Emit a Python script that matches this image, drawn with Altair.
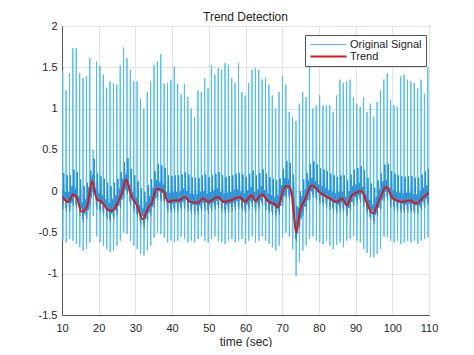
import altair as alt
import pandas as pd

# ---- beats of the original signal (R-peak time, R-peak value, S-trough value, local baseline)
beat_times = [
    10.20, 11.12, 12.04, 12.96, 13.88, 14.81, 15.73, 16.65, 17.57, 18.49,
    19.41, 20.33, 21.25, 22.17, 23.09, 24.02, 24.94, 25.86, 26.78, 27.70,
    28.62, 29.54, 30.46, 31.38, 32.30, 33.23, 34.15, 35.07, 35.99, 36.91,
    37.83, 38.75, 39.67, 40.59, 41.51, 42.44, 43.36, 44.28, 45.20, 46.12,
    47.04, 47.96, 48.88, 49.80, 50.72, 51.65, 52.57, 53.49, 54.41, 55.33,
    56.25, 57.17, 58.09, 59.01, 59.93, 60.86, 61.78, 62.70, 63.62, 64.54,
    65.46, 66.38, 67.30, 68.22, 69.14, 70.07, 70.99, 71.91, 72.83, 73.75,
    74.67, 75.59, 76.51, 77.43, 78.35, 79.28, 80.20, 81.12, 82.04, 82.96,
    83.88, 84.80, 85.72, 86.64, 87.56, 88.49, 89.41, 90.33, 91.25, 92.17,
    93.09, 94.01, 94.93, 95.85, 96.77, 97.70, 98.62, 99.54, 100.46, 101.38,
    102.30, 103.22, 104.14, 105.06, 105.98, 106.91, 107.83, 108.75, 109.67,
]
r_peak = [
    1.46, 1.22, 1.43, 1.73, 1.73, 1.43, 1.37, 1.39, 1.61, 0.50,
    1.57, 1.52, 1.41, 1.25, 1.33, 1.31, 1.29, 1.52, 1.74, 1.61,
    1.47, 1.33, 1.33, 1.12, 1.00, 1.20, 1.33, 1.53, 1.57, 1.66,
    1.30, 1.31, 1.35, 1.51, 1.30, 1.17, 1.30, 1.14, 1.00, 0.90,
    1.22, 1.20, 1.37, 1.25, 1.53, 1.41, 1.49, 1.47, 1.55, 1.53,
    1.37, 1.31, 1.55, 1.20, 1.16, 1.31, 1.47, 1.49, 1.47, 1.35,
    1.37, 1.29, 1.16, 1.00, 1.20, 1.39, 1.29, 0.96, 0.90, 0.85,
    1.06, 1.20, 1.14, 1.80, 1.00, 1.04, 1.16, 1.04, 1.04, 1.04,
    0.96, 1.16, 1.35, 1.31, 1.33, 1.35, 1.14, 1.06, 1.02, 1.14,
    0.96, 1.06, 0.90, 1.08, 1.22, 1.35, 1.43, 1.10, 1.04, 1.02,
    1.39, 1.41, 1.35, 1.33, 1.31, 1.25, 1.35, 1.18, 1.50,
]
s_trough = [
    -0.60, -0.62, -0.58, -0.60, -0.64, -0.68, -0.72, -0.70, -0.62, -0.30,
    -0.55, -0.62, -0.66, -0.70, -0.74, -0.72, -0.66, -0.60, -0.50, -0.52,
    -0.60, -0.66, -0.70, -0.76, -0.78, -0.72, -0.66, -0.56, -0.50, -0.52,
    -0.56, -0.62, -0.60, -0.62, -0.60, -0.55, -0.58, -0.62, -0.60, -0.62,
    -0.58, -0.55, -0.60, -0.62, -0.58, -0.55, -0.60, -0.62, -0.64, -0.60,
    -0.58, -0.62, -0.60, -0.58, -0.64, -0.60, -0.55, -0.62, -0.60, -0.55,
    -0.60, -0.64, -0.68, -0.72, -0.66, -0.56, -0.50, -0.55, -0.70, -1.03,
    -0.86, -0.72, -0.66, -0.58, -0.55, -0.60, -0.62, -0.64, -0.60, -0.66,
    -0.70, -0.65, -0.62, -0.68, -0.60, -0.58, -0.55, -0.60, -0.62, -0.70,
    -0.75, -0.80, -0.80, -0.76, -0.70, -0.55, -0.56, -0.60, -0.62, -0.60,
    -0.64, -0.62, -0.60, -0.62, -0.60, -0.64, -0.60, -0.58, -0.56,
]
baseline = [
    -0.08, -0.11, -0.11, -0.04, -0.07, -0.16, -0.24, -0.20, -0.05, 0.09,
    -0.08, -0.12, -0.15, -0.20, -0.24, -0.20, -0.15, -0.07, 0.05, 0.10,
    -0.03, -0.11, -0.18, -0.27, -0.31, -0.23, -0.16, -0.06, 0.03, 0.01,
    -0.02, -0.11, -0.12, -0.11, -0.11, -0.10, -0.07, -0.10, -0.13, -0.14,
    -0.14, -0.11, -0.10, -0.13, -0.11, -0.09, -0.07, -0.11, -0.13, -0.12,
    -0.11, -0.09, -0.08, -0.10, -0.13, -0.09, -0.05, -0.11, -0.08, -0.04,
    -0.09, -0.13, -0.15, -0.17, -0.15, -0.03, 0.06, 0.04, -0.10, -0.48,
    -0.30, -0.16, -0.08, 0.03, 0.06, 0.02, -0.02, -0.04, -0.06, -0.09,
    -0.11, -0.13, -0.11, -0.11, -0.17, -0.10, -0.04, -0.02, 0.00, -0.05,
    -0.14, -0.21, -0.26, -0.17, -0.08, 0.02, 0.03, -0.06, -0.09, -0.11,
    -0.12, -0.13, -0.12, -0.12, -0.14, -0.14, -0.10, -0.06, -0.03,
]

# waveform shape around each R peak (time offset in s, level relative to baseline)
pre_dt = [-0.30, -0.20, -0.10, -0.03]
pre_dy = [0.03, 0.10, 0.00, -0.10]
s_dt = 0.035
post_dt = [0.09, 0.17, 0.26, 0.36, 0.45]
post_dy = [-0.14, 0.05, 0.30, 0.06, -0.03]

# ---- trend curve
trend_t = [10, 11.7, 13, 14, 15.4, 16.8, 18.2, 19.5, 20.8, 22.6, 23.5, 25.3, 26.5,
           27.4, 29, 30.4, 32, 33.5, 34.4, 35.8, 37.6, 38.9, 40.7, 42, 43.5, 44.8,
           47.1, 48.4, 49.8, 52.5, 54, 56, 58.5, 59.8, 61.7, 62.6, 64.5, 66.3, 68.1,
           68.7, 70.8, 71.7, 72.6, 73.8, 74.9, 76.2, 78.1, 80.3, 83, 84.8, 86.3, 87.6,
           89, 91.7, 92.9, 94.7, 96.5, 98.3, 100.2, 102.9, 104.7, 106.5, 108.5, 110]
trend_v = [-0.07, -0.13, -0.04, -0.08, -0.25, -0.19, 0.12, -0.10, -0.13, -0.23, -0.24,
           -0.13, 0.00, 0.14, -0.07, -0.17, -0.34, -0.20, -0.15, 0.03, 0.00, -0.13,
           -0.11, -0.11, -0.07, -0.13, -0.14, -0.09, -0.13, -0.07, -0.13, -0.11, -0.07,
           -0.13, -0.05, -0.12, -0.04, -0.13, -0.16, -0.20, 0.06, 0.06, -0.03, -0.50,
           -0.23, -0.10, 0.07, -0.02, -0.09, -0.13, -0.09, -0.17, -0.05, 0.00, -0.13,
           -0.27, -0.10, 0.05, -0.09, -0.13, -0.11, -0.15, -0.07, -0.02]

series_names = ["Original Signal", "Trend"]
series_colors = ["#4DBEEE", "#D7191C"]

sig_rows, band_rows = [], []
for i, (t, p, s, b) in enumerate(zip(beat_times, r_peak, s_trough, baseline)):
    for dt, dy in zip(pre_dt, pre_dy):
        sig_rows.append((t + dt, b + dy))
        band_rows.append((t + dt, b + dy, i))
    sig_rows.append((t, p))
    sig_rows.append((t + s_dt, s))
    for dt, dy in zip(post_dt, post_dy):
        sig_rows.append((t + dt, b + dy))
        band_rows.append((t + dt, b + dy, i + 1))

sig = pd.DataFrame(sig_rows, columns=["t", "v"])
sig["series"] = series_names[0]
sig["order"] = range(len(sig))
band = pd.DataFrame(band_rows, columns=["t", "v", "g"])
trend = pd.DataFrame({"t": trend_t, "v": trend_v, "series": series_names[1]})

font = "Liberation Sans"
xenc = alt.X("t:Q", scale=alt.Scale(domain=[10, 110], nice=False, zero=False),
             axis=alt.Axis(values=list(range(10, 111, 10)), title="time (sec)",
                           labelPadding=7, titlePadding=3, labelFlush=False))
yenc = alt.Y("v:Q", scale=alt.Scale(domain=[-1.5, 2], nice=False, zero=False),
             axis=alt.Axis(values=[-1.5, -1, -0.5, 0, 0.5, 1, 1.5, 2], title=None,
                           labelExpr="'' + datum.value", labelPadding=5))

legend = alt.Legend(title=None, orient="none", legendX=243, legendY=9,
                    symbolType="M-1,0H8", symbolSize=64, labelOffset=30,
                    padding=4, rowPadding=0, strokeColor="#555", fillColor="white",
                    labelFont=font, labelFontSize=11, labelColor="#222")
cenc = alt.Color("series:N", scale=alt.Scale(domain=series_names, range=series_colors), legend=legend)
wenc = alt.StrokeWidth("series:N", scale=alt.Scale(domain=series_names, range=[1, 2]), legend=legend)

signal = alt.Chart(sig).mark_line(clip=True).encode(x=xenc, y=yenc, color=cenc, strokeWidth=wenc, order="order:Q")
bandl = alt.Chart(band).mark_line(clip=True, color="#2A8ED2", strokeWidth=1).encode(
    x=xenc, y=yenc, detail="g:N")
trendl = alt.Chart(trend).mark_line(clip=True, interpolate="monotone").encode(
    x=xenc, y=yenc, color=cenc, strokeWidth=wenc)

chart = alt.layer(signal, bandl, trendl).properties(
    width=367, height=289,
    title=alt.Title("Trend Detection", fontSize=12, fontWeight="normal", font=font,
                    color="#222", offset=-4),
    padding={"left": 54, "top": 18, "right": 35, "bottom": 32},
    autosize=alt.AutoSizeParams(type="none"),
).configure_view(stroke="#555", strokeWidth=1).configure_axis(
    labelFont=font, labelFontSize=11, labelColor="#262626",
    titleFont=font, titleFontSize=12, titleColor="#262626", titleFontWeight="normal",
    gridColor="#e3e3e3", domainColor="#555", ticks=False,
)

chart.save("out.html", embed_options={"renderer": "svg", "actions": False})
